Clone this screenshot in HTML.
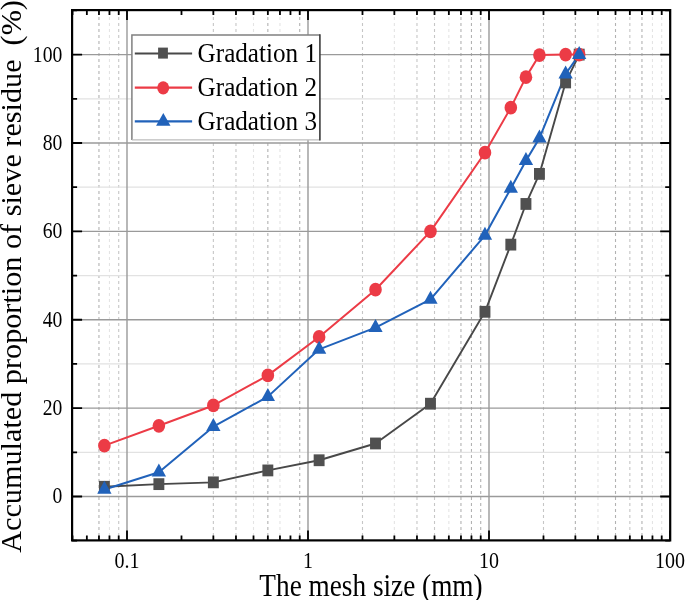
<!DOCTYPE html><html><head><meta charset="utf-8"><style>html,body{margin:0;padding:0;background:#fff;}svg{display:block;}</style></head><body>
<svg width="685" height="600" viewBox="0 0 685 600" font-family="Liberation Serif, Times New Roman, serif">
<rect width="685" height="600" fill="#fff"/>
<path d="M98.96 11.1V539.4 M267.85 11.1V539.4 M299.72 11.1V539.4 M460.96 11.1V539.4 M471.46 11.1V539.4 M480.72 11.1V539.4 M575.36 11.1V539.4 M615.51 11.1V539.4 M641.96 11.1V539.4" stroke="#b2b2b2" stroke-width="1.1" stroke-dasharray="3 3" fill="none"/>
<path d="M118.72 11.1V539.4 M213.36 11.1V539.4 M235.97 11.1V539.4 M362.49 11.1V539.4 M416.97 11.1V539.4 M434.51 11.1V539.4 M543.49 11.1V539.4 M629.85 11.1V539.4" stroke="#c6c6c6" stroke-width="1.1" stroke-dasharray="3 3" fill="none"/>
<path d="M109.46 11.1V539.4 M253.51 11.1V539.4 M279.96 11.1V539.4 M394.36 11.1V539.4 M448.85 11.1V539.4 M597.97 11.1V539.4 M652.46 11.1V539.4 M661.72 11.1V539.4" stroke="#e4e4e4" stroke-width="1.1" stroke-dasharray="3 3" fill="none"/>
<path d="M73.1 452.31H669.2 M73.1 363.93H669.2 M73.1 275.55H669.2 M73.1 187.17H669.2 M73.1 98.79H669.2" stroke="#e2e2e2" stroke-width="1.2" fill="none"/>
<path d="M73.1 496.50H669.2 M73.1 408.12H669.2 M73.1 319.74H669.2 M73.1 231.36H669.2 M73.1 142.98H669.2 M73.1 54.60H669.2 M127.00 11.1V539.4 M308.00 11.1V539.4 M489.00 11.1V539.4" stroke="#9a9a9a" stroke-width="1.4" fill="none"/>
<polyline points="104.39,486.78 158.87,484.13 213.36,482.36 267.85,470.43 319.12,460.26 375.50,443.47 430.48,403.70 484.97,311.79 510.82,244.62 525.95,203.96 539.45,173.91 565.61,82.44 579.19,54.60" fill="none" stroke="#484848" stroke-width="1.9" stroke-linejoin="round"/>
<polyline points="104.39,445.68 158.87,425.80 213.36,405.47 267.85,375.42 319.12,336.97 375.50,289.69 430.48,231.36 484.97,152.70 510.82,107.63 525.95,77.14 539.45,55.04 565.61,54.60 579.19,54.60" fill="none" stroke="#ec3b46" stroke-width="2.0" stroke-linejoin="round"/>
<polyline points="104.39,489.43 158.87,472.20 213.36,426.68 267.85,396.63 319.12,349.35 375.50,327.69 430.48,299.41 484.97,235.34 510.82,188.50 525.95,160.66 539.45,138.12 565.61,74.04 579.19,54.60" fill="none" stroke="#2162ba" stroke-width="2.0" stroke-linejoin="round"/>
<rect x="98.94" y="480.88" width="10.9" height="11.8" fill="#505050"/>
<rect x="153.42" y="478.23" width="10.9" height="11.8" fill="#505050"/>
<rect x="207.91" y="476.46" width="10.9" height="11.8" fill="#505050"/>
<rect x="262.40" y="464.53" width="10.9" height="11.8" fill="#505050"/>
<rect x="313.67" y="454.36" width="10.9" height="11.8" fill="#505050"/>
<rect x="370.05" y="437.57" width="10.9" height="11.8" fill="#505050"/>
<rect x="425.03" y="397.80" width="10.9" height="11.8" fill="#505050"/>
<rect x="479.52" y="305.89" width="10.9" height="11.8" fill="#505050"/>
<rect x="505.37" y="238.72" width="10.9" height="11.8" fill="#505050"/>
<rect x="520.50" y="198.06" width="10.9" height="11.8" fill="#505050"/>
<rect x="534.00" y="168.01" width="10.9" height="11.8" fill="#505050"/>
<rect x="560.16" y="76.54" width="10.9" height="11.8" fill="#505050"/>
<rect x="573.74" y="48.70" width="10.9" height="11.8" fill="#505050"/>
<ellipse cx="104.39" cy="445.68" rx="6.3" ry="6.9" fill="#ec3b46"/>
<ellipse cx="158.87" cy="425.80" rx="6.3" ry="6.9" fill="#ec3b46"/>
<ellipse cx="213.36" cy="405.47" rx="6.3" ry="6.9" fill="#ec3b46"/>
<ellipse cx="267.85" cy="375.42" rx="6.3" ry="6.9" fill="#ec3b46"/>
<ellipse cx="319.12" cy="336.97" rx="6.3" ry="6.9" fill="#ec3b46"/>
<ellipse cx="375.50" cy="289.69" rx="6.3" ry="6.9" fill="#ec3b46"/>
<ellipse cx="430.48" cy="231.36" rx="6.3" ry="6.9" fill="#ec3b46"/>
<ellipse cx="484.97" cy="152.70" rx="6.3" ry="6.9" fill="#ec3b46"/>
<ellipse cx="510.82" cy="107.63" rx="6.3" ry="6.9" fill="#ec3b46"/>
<ellipse cx="525.95" cy="77.14" rx="6.3" ry="6.9" fill="#ec3b46"/>
<ellipse cx="539.45" cy="55.04" rx="6.3" ry="6.9" fill="#ec3b46"/>
<ellipse cx="565.61" cy="54.60" rx="6.3" ry="6.9" fill="#ec3b46"/>
<ellipse cx="579.19" cy="54.60" rx="6.3" ry="6.9" fill="#ec3b46"/>
<polygon points="104.39,480.76 111.54,493.76 97.24,493.76" fill="#2162ba"/>
<polygon points="158.87,463.53 166.02,476.53 151.72,476.53" fill="#2162ba"/>
<polygon points="213.36,418.01 220.51,431.01 206.21,431.01" fill="#2162ba"/>
<polygon points="267.85,387.96 275.00,400.96 260.70,400.96" fill="#2162ba"/>
<polygon points="319.12,340.68 326.27,353.68 311.97,353.68" fill="#2162ba"/>
<polygon points="375.50,319.03 382.65,332.03 368.35,332.03" fill="#2162ba"/>
<polygon points="430.48,290.75 437.63,303.75 423.33,303.75" fill="#2162ba"/>
<polygon points="484.97,226.67 492.12,239.67 477.82,239.67" fill="#2162ba"/>
<polygon points="510.82,179.83 517.97,192.83 503.67,192.83" fill="#2162ba"/>
<polygon points="525.95,151.99 533.10,164.99 518.80,164.99" fill="#2162ba"/>
<polygon points="539.45,129.45 546.60,142.45 532.30,142.45" fill="#2162ba"/>
<polygon points="565.61,65.38 572.76,78.38 558.46,78.38" fill="#2162ba"/>
<polygon points="579.19,45.93 586.34,58.93 572.04,58.93" fill="#2162ba"/>
<rect x="72.1" y="10.1" width="598.1" height="530.3" fill="none" stroke="#000" stroke-width="2.2"/>
<path d="M72.51 540.4v-5M72.51 10.1v5 M86.85 540.4v-5M86.85 10.1v5 M98.96 540.4v-5M98.96 10.1v5 M109.46 540.4v-5M109.46 10.1v5 M118.72 540.4v-5M118.72 10.1v5 M127.00 540.4v-10M127.00 10.1v10 M181.49 540.4v-5M181.49 10.1v5 M213.36 540.4v-5M213.36 10.1v5 M235.97 540.4v-5M235.97 10.1v5 M253.51 540.4v-5M253.51 10.1v5 M267.85 540.4v-5M267.85 10.1v5 M279.96 540.4v-5M279.96 10.1v5 M290.46 540.4v-5M290.46 10.1v5 M299.72 540.4v-5M299.72 10.1v5 M308.00 540.4v-10M308.00 10.1v10 M362.49 540.4v-5M362.49 10.1v5 M394.36 540.4v-5M394.36 10.1v5 M416.97 540.4v-5M416.97 10.1v5 M434.51 540.4v-5M434.51 10.1v5 M448.85 540.4v-5M448.85 10.1v5 M460.96 540.4v-5M460.96 10.1v5 M471.46 540.4v-5M471.46 10.1v5 M480.72 540.4v-5M480.72 10.1v5 M489.00 540.4v-10M489.00 10.1v10 M543.49 540.4v-5M543.49 10.1v5 M575.36 540.4v-5M575.36 10.1v5 M597.97 540.4v-5M597.97 10.1v5 M615.51 540.4v-5M615.51 10.1v5 M629.85 540.4v-5M629.85 10.1v5 M641.96 540.4v-5M641.96 10.1v5 M652.46 540.4v-5M652.46 10.1v5 M661.72 540.4v-5M661.72 10.1v5 M670.00 540.4v-10M670.00 10.1v10 M72.1 540.69h5M670.2 540.69h-5 M72.1 496.50h10M670.2 496.50h-10 M72.1 452.31h5M670.2 452.31h-5 M72.1 408.12h10M670.2 408.12h-10 M72.1 363.93h5M670.2 363.93h-5 M72.1 319.74h10M670.2 319.74h-10 M72.1 275.55h5M670.2 275.55h-5 M72.1 231.36h10M670.2 231.36h-10 M72.1 187.17h5M670.2 187.17h-5 M72.1 142.98h10M670.2 142.98h-10 M72.1 98.79h5M670.2 98.79h-5 M72.1 54.60h10M670.2 54.60h-10 M72.1 10.41h5M670.2 10.41h-5" stroke="#000" stroke-width="1.8" fill="none"/>
<rect x="131.9" y="34.9" width="188.0" height="105.0" fill="#fff" stroke="none"/>
<path d="M131.9 139.9V34.9H319.9" stroke="#808080" stroke-width="1.5" fill="none"/>
<path d="M131.9 139.9H319.9" stroke="#bdbdbd" stroke-width="1.4" fill="none"/>
<path d="M319.9 34.199999999999996V140.6" stroke="#3a3a3a" stroke-width="1.6" fill="none"/>
<line x1="134.8" y1="53.5" x2="192.1" y2="53.5" stroke="#484848" stroke-width="2.2"/>
<line x1="134.8" y1="87.7" x2="192.1" y2="87.7" stroke="#ec3b46" stroke-width="2.2"/>
<line x1="134.8" y1="121.4" x2="192.1" y2="121.4" stroke="#2162ba" stroke-width="2.2"/>
<rect x="158.1" y="47.6" width="9.8" height="11" fill="#505050"/>
<ellipse cx="163.2" cy="87.8" rx="6" ry="6.6" fill="#ec3b46"/>
<polygon points="163.3,113.1 170.5,125.8 156.1,125.8" fill="#2162ba"/>
<text transform="translate(197.6 62.4) scale(0.935 1)" font-size="26.9" fill="#000">Gradation 1</text>
<text transform="translate(197.6 96.0) scale(0.935 1)" font-size="26.9" fill="#000">Gradation 2</text>
<text transform="translate(197.6 129.9) scale(0.935 1)" font-size="26.9" fill="#000">Gradation 3</text>
<text transform="translate(62.3 503.4) scale(0.855 1)" font-size="23" text-anchor="end" fill="#000">0</text>
<text transform="translate(62.3 415.0) scale(0.855 1)" font-size="23" text-anchor="end" fill="#000">20</text>
<text transform="translate(62.3 326.6) scale(0.855 1)" font-size="23" text-anchor="end" fill="#000">40</text>
<text transform="translate(62.3 238.3) scale(0.855 1)" font-size="23" text-anchor="end" fill="#000">60</text>
<text transform="translate(62.3 149.9) scale(0.855 1)" font-size="23" text-anchor="end" fill="#000">80</text>
<text transform="translate(62.3 61.5) scale(0.855 1)" font-size="23" text-anchor="end" fill="#000">100</text>
<text transform="translate(127.0 568.3) scale(0.87 1)" font-size="23" text-anchor="middle" fill="#000">0.1</text>
<text transform="translate(308.0 568.3) scale(0.87 1)" font-size="23" text-anchor="middle" fill="#000">1</text>
<text transform="translate(489.0 568.3) scale(0.87 1)" font-size="23" text-anchor="middle" fill="#000">10</text>
<text transform="translate(670.0 568.3) scale(0.87 1)" font-size="23" text-anchor="middle" fill="#000">100</text>
<text transform="translate(371 596.3) scale(0.871 1)" font-size="31.3" text-anchor="middle" fill="#000">The mesh size (mm)</text>
<text transform="translate(21 552.8) rotate(-90)" font-size="30.23" fill="#000">Accumulated proportion of sieve residue <tspan dx="6.4">(%)</tspan></text>
</svg></body></html>
